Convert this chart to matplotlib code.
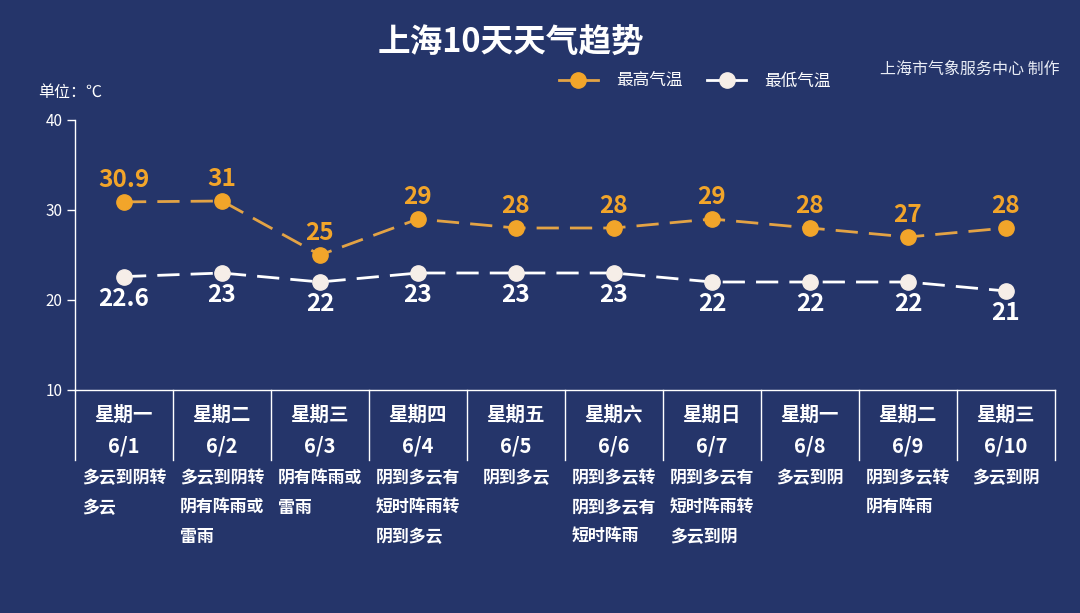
import matplotlib.pyplot as plt
from matplotlib.lines import Line2D

plt.rcParams['font.family'] = ['Noto Sans CJK SC', 'DejaVu Sans']

BG = '#25356a'
ORANGE = '#f2a52a'
ORANGE_LINE = '#e3a345'
WHITE = '#ffffff'
CREAM = '#f6eee8'

weekdays = ['星期一', '星期二', '星期三', '星期四', '星期五',
            '星期六', '星期日', '星期一', '星期二', '星期三']
dates = ['6/1', '6/2', '6/3', '6/4', '6/5', '6/6', '6/7', '6/8', '6/9', '6/10']
high = [30.9, 31, 25, 29, 28, 28, 29, 28, 27, 28]
low = [22.6, 23, 22, 23, 23, 23, 22, 22, 22, 21]
weather = ['多云到阴转\n多云', '多云到阴转\n阴有阵雨或\n雷雨', '阴有阵雨或\n雷雨',
           '阴到多云有\n短时阵雨转\n阴到多云', '阴到多云', '阴到多云转\n阴到多云有\n短时阵雨',
           '阴到多云有\n短时阵雨转\n多云到阴', '多云到阴', '阴到多云转\n阴有阵雨', '多云到阴']
yticks = [10, 20, 30, 40]

fig = plt.figure(figsize=(10.8, 6.13), dpi=100, facecolor=BG)
ax = fig.add_axes([75/1080, 223/613, 980/1080, 270/613])
ax.set_facecolor(BG)

x = list(range(len(high)))
ax.plot(x, high, color=ORANGE_LINE, lw=2, dashes=(8, 4), marker='o', ms=11,
        mfc=ORANGE, mec=ORANGE, zorder=3)
ax.plot(x, low, color=WHITE, lw=2, dashes=(8, 4), marker='o', ms=11,
        mfc=CREAM, mec=CREAM, zorder=3)

for i in x:
    ax.annotate(f'{high[i]:g}', (i, high[i]), xytext=(0, 16), textcoords='offset points',
                ha='center', va='center', color=ORANGE, fontsize=17.5, fontweight='bold')
    ax.annotate(f'{low[i]:g}', (i, low[i]), xytext=(0, -16), textcoords='offset points',
                ha='center', va='center', color=WHITE, fontsize=17.5, fontweight='bold')

ax.set_xlim(-0.5, len(x) - 0.5)
ax.set_ylim(10, 40)
ax.set_yticks(yticks)
ax.set_xticks([])
ax.tick_params(axis='y', colors=WHITE, labelsize=11, length=6, width=1, pad=3)
for s in ['top', 'right']:
    ax.spines[s].set_visible(False)
for s in ['left', 'bottom']:
    ax.spines[s].set_color(WHITE)
    ax.spines[s].set_linewidth(1)

# table under the axis: separators, weekday, date, weather text
for b in range(len(x) + 1):
    ax.plot([b - 0.5, b - 0.5], [10, 2.2], color=WHITE, lw=1, clip_on=False)
for i in x:
    ax.text(i, 7.2, weekdays[i], ha='center', va='center', color=WHITE,
            fontsize=14, fontweight='bold', clip_on=False)
    ax.text(i, 3.8, dates[i], ha='center', va='center', color=WHITE,
            fontsize=14.5, fontweight='bold', clip_on=False)
    ax.text(i, 1.2, weather[i], ha='center', va='top', color=WHITE, fontsize=12.2,
            fontweight='bold', multialignment='left', linespacing=1.82, clip_on=False)

fig.text(511/1080, 1 - 43/613, '上海10天天气趋势', ha='center', va='center',
         color=WHITE, fontsize=23.5, fontweight='bold')
fig.text(38/1080, 1 - 93/613, '单位：℃', ha='left', va='center', color=WHITE, fontsize=11.5)
fig.text(1060/1080, 1 - 69/613, '上海市气象服务中心 制作', ha='right', va='center',
         color='#e8ecf5', fontsize=11.5)

handles = [Line2D([], [], color=ORANGE_LINE, lw=2, marker='o', ms=11, mfc=ORANGE, mec=ORANGE),
           Line2D([], [], color=WHITE, lw=2, marker='o', ms=11, mfc=CREAM, mec=CREAM)]
leg = fig.legend(handles, ['最高气温', '最低气温'], loc='center', ncol=2,
                 bbox_to_anchor=(695/1080, 1 - 81/613), frameon=False, fontsize=12,
                 labelcolor=WHITE, handlelength=2.3, columnspacing=1.5, handletextpad=1.1)

fig.savefig('out.png', dpi=100, facecolor=BG)
